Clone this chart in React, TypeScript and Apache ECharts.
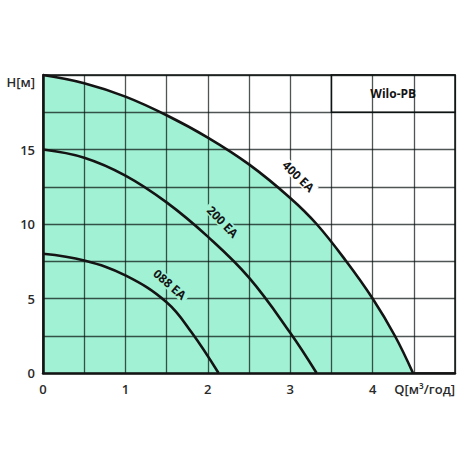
import { useEffect, useRef } from "react";
import * as echarts from "echarts";

// Q [m³/h] vs H [m]
const q400 = [0, 0.5, 1, 1.5, 2, 2.5, 3, 3.32, 3.68, 4, 4.27, 4.49];
const h400 = [20, 19.45, 18.55, 17.3, 15.8, 14.0, 11.75, 10, 7.5, 5, 2.5, 0];

const q200 = [0, 0.5, 1, 1.5, 2, 2.5, 3, 3.32];
const h200 = [15, 14.45, 13.25, 11.45, 9.15, 6.4, 2.7, 0];

const q088 = [0, 0.5, 1, 1.5, 1.8, 2.13];
const h088 = [8, 7.55, 6.55, 4.75, 2.75, 0];

const curveNames = ["400 EA", "200 EA", "088 EA"];
// where each curve's name sits [Q, H] and its slant
const labelAt = [
  [3.1, 13.2],
  [2.18, 10.15],
  [1.54, 5.95],
];
const labelTilt = [-44, -46, -41];

const xTickValues = [0, 1, 2, 3, 4, 5];
const xTickLabels = ["0", "1", "2", "3", "4", "Q[м³/год]"];
const yTickValues = [0, 5, 10, 15, 20];
const yTickLabels = ["0", "5", "10", "15", "H[м]"];

const brandBox = [
  [3.5, 17.5],
  [5, 20],
];
const brandName = "Wilo-PB";

const FILL = "#a1f1d4";
const INK = "#141414";
const FONT = "'Open Sans', 'DejaVu Sans', sans-serif";

const zip = (qs: number[], hs: number[]) => qs.map((q, i) => [q, hs[i]]);

export default function App() {
  const chartRef = useRef<HTMLDivElement>(null);

  useEffect(() => {
    if (!chartRef.current) return;
    const chart = echarts.init(chartRef.current, undefined, { renderer: "svg" });

    const curves = [zip(q400, h400), zip(q200, h200), zip(q088, h088)];
    const labelBg = ["#ffffff", FILL, FILL];

    const curveSeries = curves.map((data, i) => ({
      name: curveNames[i],
      type: "line",
      data,
      smooth: 0.4,
      symbol: "none",
      z: 5,
      lineStyle: { color: INK, width: 2.6 },
      markPoint: {
        symbol: "circle",
        symbolSize: 0,
        data: [{ coord: labelAt[i], value: curveNames[i] }],
        label: {
          show: true,
          position: "inside",
          formatter: curveNames[i],
          rotate: labelTilt[i],
          color: INK,
          fontFamily: FONT,
          fontWeight: "bold",
          fontSize: 12,
          backgroundColor: labelBg[i],
          padding: [0, 3],
        },
      },
      markArea:
        i === 0
          ? {
              silent: true,
              itemStyle: { color: "#ffffff", borderColor: INK, borderWidth: 1.5 },
              label: {
                show: true,
                position: "inside",
                color: INK,
                fontFamily: FONT,
                fontWeight: "bold",
                fontSize: 12,
              },
              data: [
                [
                  { coord: brandBox[0], name: brandName },
                  { coord: brandBox[1] },
                ],
              ],
            }
          : undefined,
    }));

    chart.setOption({
      animation: false,
      grid: {
        left: 43,
        right: 19,
        top: 75,
        bottom: 101,
        show: true,
        borderColor: INK,
        borderWidth: 1.5,
        backgroundColor: "#ffffff",
      },
      xAxis: {
        type: "value",
        min: 0,
        max: 5,
        interval: 0.5,
        z: 3,
        axisLine: { show: true, onZero: false, lineStyle: { color: INK, width: 2.5 } },
        axisTick: { show: false },
        splitLine: { lineStyle: { color: "rgba(10,20,18,0.72)", width: 1.3 } },
        axisLabel: {
          margin: 9,
          color: "#2a2a2a",
          fontFamily: FONT,
          fontWeight: 600,
          fontSize: 13,
          alignMaxLabel: "right",
          formatter: (v: number) => {
            const k = xTickValues.indexOf(v);
            return k >= 0 ? xTickLabels[k] : "";
          },
        },
      },
      yAxis: {
        type: "value",
        min: 0,
        max: 20,
        interval: 2.5,
        z: 3,
        axisLine: { show: true, onZero: false, lineStyle: { color: INK, width: 2.5 } },
        axisTick: { show: false },
        splitLine: { lineStyle: { color: "rgba(10,20,18,0.72)", width: 1.3 } },
        axisLabel: {
          margin: 8,
          color: "#2a2a2a",
          fontFamily: FONT,
          fontWeight: 600,
          fontSize: 13,
          verticalAlignMaxLabel: "top",
          formatter: (v: number) => {
            const k = yTickValues.indexOf(v);
            return k >= 0 ? yTickLabels[k] : "";
          },
        },
      },
      series: [
        {
          name: "fill",
          type: "line",
          data: curves[0],
          smooth: 0.4,
          symbol: "none",
          z: 1,
          silent: true,
          lineStyle: { width: 0, opacity: 0 },
          areaStyle: { color: FILL, opacity: 1 },
        },
        ...curveSeries,
      ],
    });

    return () => chart.dispose();
  }, []);

  return (
    <div
      ref={chartRef}
      style={{ position: "fixed", left: 0, top: 0, width: 474, height: 474, background: "#fff" }}
    />
  );
}
